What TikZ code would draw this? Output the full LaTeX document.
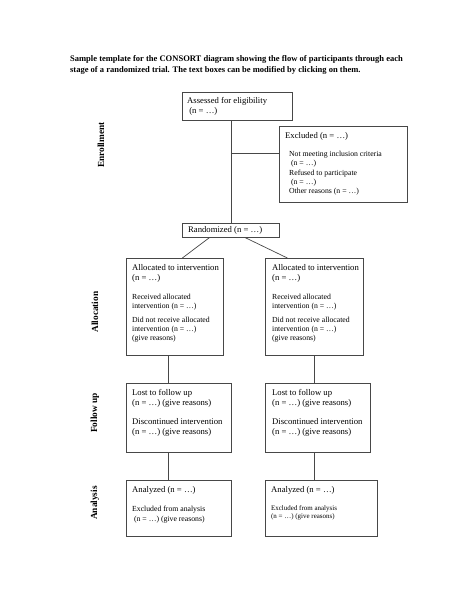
\documentclass[tikz,border=0pt]{standalone}
\usepackage{fontspec}
\setmainfont{Liberation Serif}
\usetikzlibrary{calc}
\tikzset{
  box/.style={draw=black!72, line width=0.9pt, anchor=north west, inner sep=0pt},
  txt/.style={anchor=north west, align=left, inner sep=0pt, font=\fontsize{11.2}{13.2}\selectfont},
  smtxt/.style={anchor=north west, align=left, inner sep=0pt, font=\fontsize{10}{11.6}\selectfont},
  tiny/.style={anchor=north west, align=left, inner sep=0pt, font=\fontsize{9}{10.4}\selectfont},
  lab/.style={rotate=90, inner sep=0pt, font=\bfseries\fontsize{12}{13}\selectfont},
  title/.style={anchor=north west, align=left, inner sep=0pt, font=\bfseries\fontsize{11}{14}\selectfont},
  link/.style={draw=black!72, line width=0.9pt}
}
\newcommand\mybox[5]{\node[box, minimum width={(#4-#2)*1.2911pt}, minimum height={(#5-#3)*1.2911pt}] (#1) at (#2,#3) {};}
\begin{document}
\begin{tikzpicture}[x=1.2911pt,y=-1.2911pt]
\useasboundingbox (0,0) rectangle (474,612);
\fill[white] (0,0) rectangle (474,612);

% title
\node[title] (ttl) at (70,55) {Sample template for the CONSORT diagram showing the flow of participants through each\\stage of a randomized trial. The text boxes can be modified by clicking on them.};

% side labels
\node[lab] (lenr) at (101,145) {Enrollment};
\node[lab] (lall) at (95,312) {Allocation};
\node[lab] (lfu)  at (95,413) {Follow up};
\node[lab] (lana) at (95,503) {Analysis};

% boxes
\mybox{assess}{182}{92}{292}{120}
\mybox{excl}{279}{126}{407}{202}
\mybox{rand}{182}{223}{279}{237}
\mybox{allocL}{126}{258}{223}{355}
\mybox{allocR}{265}{258}{363}{355}
\mybox{fuL}{126}{383}{231}{452}
\mybox{fuR}{265}{383}{370}{452}
\mybox{anaL}{126}{480}{231}{536}
\mybox{anaR}{265}{480}{377}{536}

% texts
\node[txt] (assess-t) at (187,97) {Assessed for eligibility\\\ (n = …)};
\node[txt] (excl-t1) at (285,132) {Excluded (n = …)};
\node[smtxt, font=\fontsize{10}{12}\selectfont] (excl-t2) at (289,151) {Not meeting inclusion criteria\\\ (n = …)\\Refused to participate\\\ (n = …)\\Other reasons (n = …)};
\node[txt] (rand-t) at (188,226) {Randomized (n = …)};
\node[txt] (allocL-t1) at (132,264) {Allocated to intervention\\(n = …)};
\node[smtxt] (allocL-t2) at (132,294) {Received allocated\\intervention (n = …)\\[7pt]Did not receive allocated\\intervention (n = …)\\(give reasons)};
\node[txt] (allocR-t1) at (272,264) {Allocated to intervention\\(n = …)};
\node[smtxt] (allocR-t2) at (272,294) {Received allocated\\intervention (n = …)\\[7pt]Did not receive allocated\\intervention (n = …)\\(give reasons)};
\node[txt] (fuL-t) at (132,389) {Lost to follow up\\(n = …) (give reasons)\\[11pt]Discontinued intervention\\(n = …) (give reasons)};
\node[txt] (fuR-t) at (272,389) {Lost to follow up\\(n = …) (give reasons)\\[11pt]Discontinued intervention\\(n = …) (give reasons)};
\node[txt] (anaL-t1) at (132,486) {Analyzed (n = …)};
\node[smtxt, font=\fontsize{10}{12.5}\selectfont] (anaL-t2) at (132,506) {Excluded from analysis\\\ (n = …) (give reasons)};
\node[txt] (anaR-t1) at (271,486) {Analyzed (n = …)};
\node[tiny] (anaR-t2) at (271,505) {Excluded from analysis\\(n = …) (give reasons)};

% connectors
\draw[link] (rand.north) -- (rand.north |- assess.south);
\coordinate (j) at ($(rand.north)!0.68!(rand.north |- assess.south)$);
\draw[link] (j) -- (j -| excl.west);
\draw[link] ($(rand.south)+(-21.5,0)$) -- ($(allocL.north)+(7.5,0)$);
\draw[link] ($(rand.south)+(14.5,0)$) -- ($(allocR.north)+(-27,0)$);
\coordinate (cl) at ($(allocL.south west)+(42,0)$);
\coordinate (cr) at ($(allocR.south west)+(49,0)$);
\draw[link] (cl) -- (cl |- fuL.north);
\draw[link] (cr) -- (cr |- fuR.north);
\coordinate (dl) at ($(fuL.south west)+(42,0)$);
\coordinate (dr) at ($(fuR.south west)+(49,0)$);
\draw[link] (dl) -- (dl |- anaL.north);
\draw[link] (dr) -- (dr |- anaR.north);
\end{tikzpicture}
\end{document}
